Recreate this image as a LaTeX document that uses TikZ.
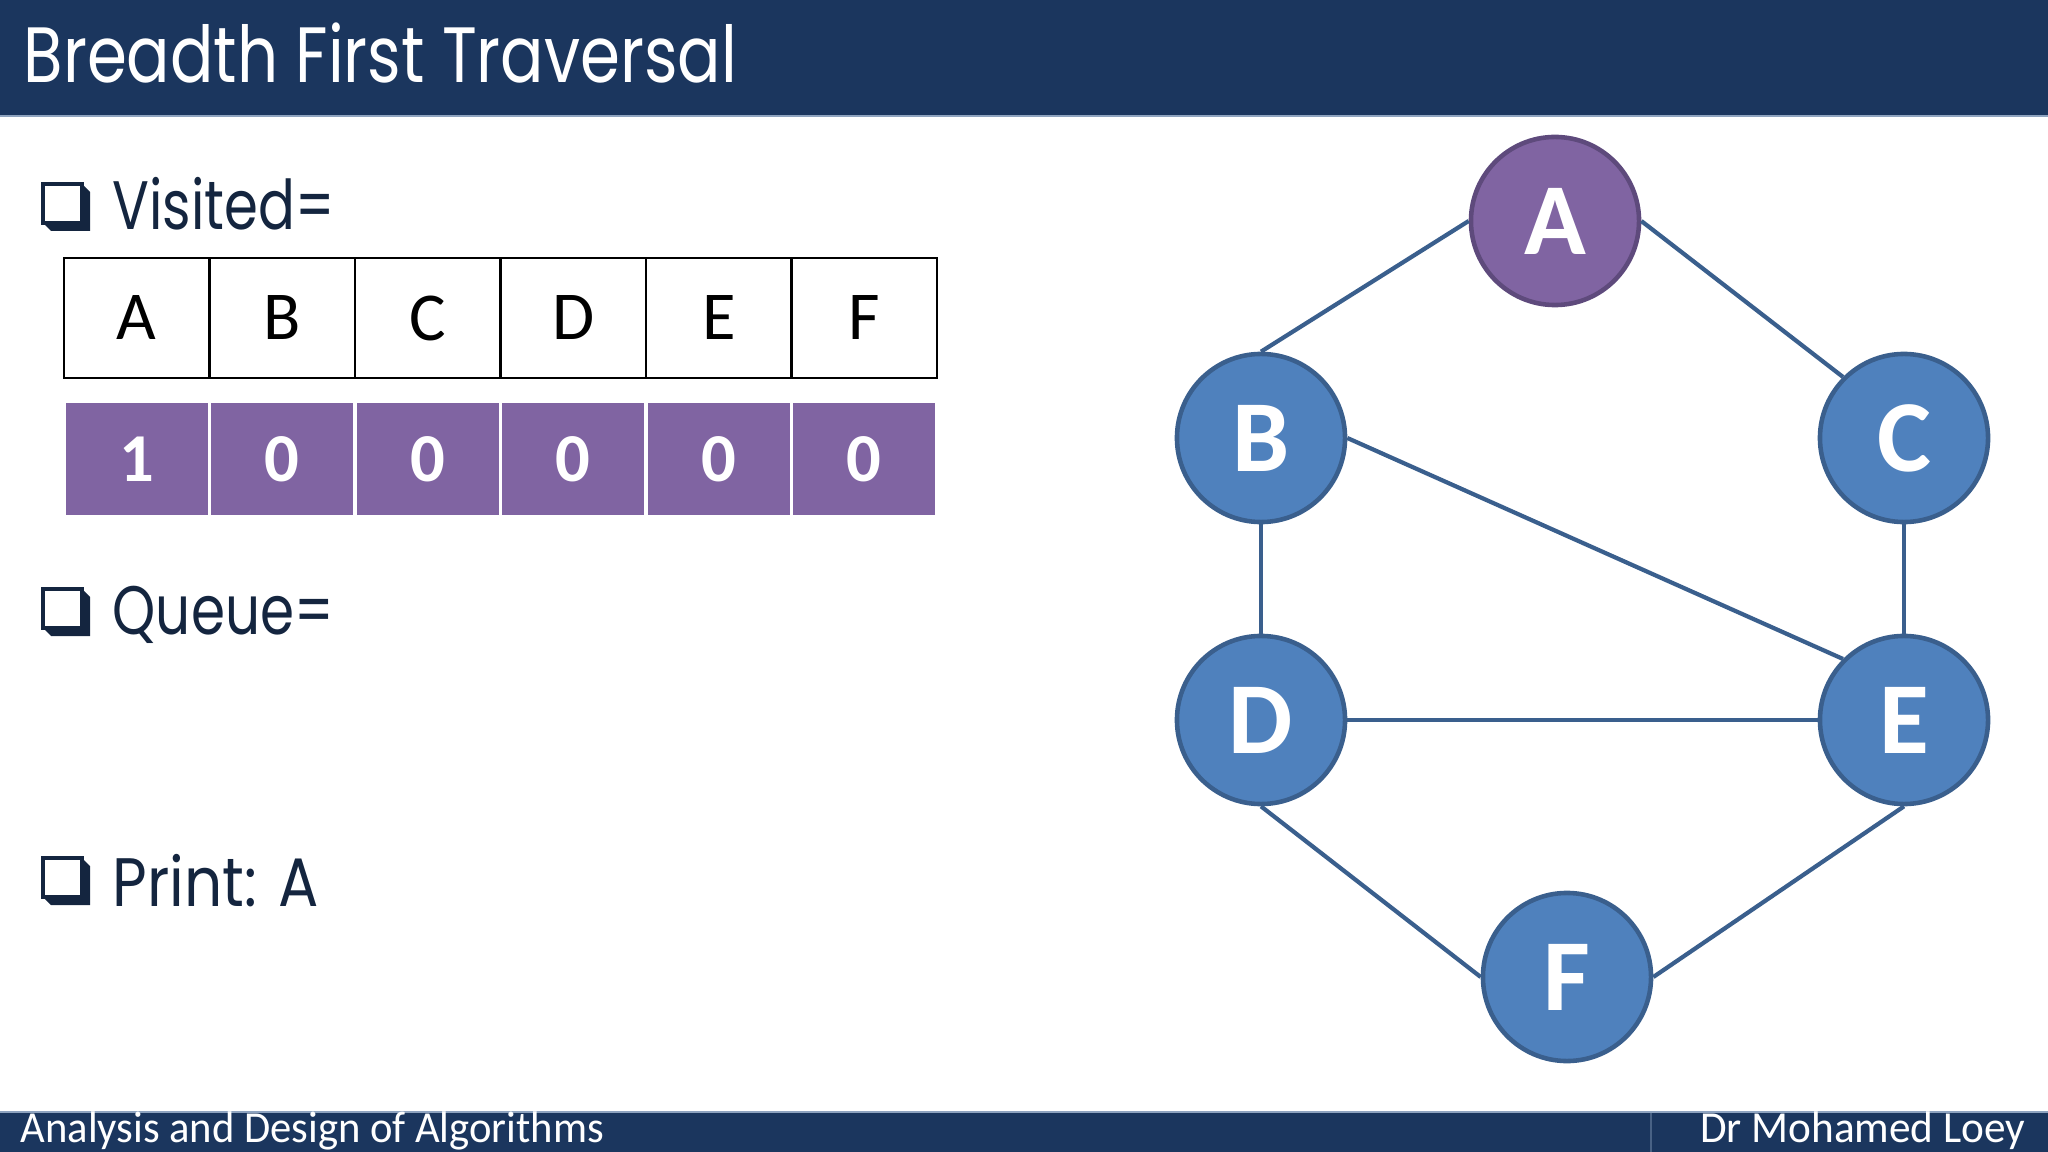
\documentclass[tikz,border=0pt]{standalone}
\usepackage{fontspec}
\usepackage{graphicx}
\usepackage{tikz}
\setmainfont{Carlito}
\newfontfamily\twcen{Poppins}

\definecolor{barblue}{HTML}{1B365E}
\definecolor{barline}{HTML}{8EA3BF}
\definecolor{inkblue}{HTML}{14253F}
\definecolor{nodeblue}{HTML}{4F81BD}
\definecolor{nodeline}{HTML}{3A5F8D}
\definecolor{visitpurple}{HTML}{8064A2}
\definecolor{visitline}{HTML}{5E4A7C}

\newcommand{\fitto}[2]{\resizebox{#1}{\height}{#2}}
\newcommand{\chkbox}[2]{%
	\fill[inkblue] (#1+39,#2) -- (#1+47,#2+8) -- (#1+47,#2+47) -- (#1+8,#2+47) -- (#1,#2+39) -- cycle;
	\draw[inkblue, line width=0.9pt, fill=white] (#1,#2) rectangle (#1+39,#2+39);}

\begin{document}
\begin{tikzpicture}[x=0.01cm, y=-0.01cm,
	vertex/.style={circle, draw=nodeline, fill=nodeblue, line width=1.3pt, minimum size=1.68cm, inner sep=0pt, text=white, font=\fontsize{29}{29}\selectfont\bfseries},
	seen/.style={vertex, draw=visitline, fill=visitpurple},
	edge/.style={draw=nodeline, line width=1.2pt},
	label cell/.style={rectangle, draw=black, line width=0.7pt, minimum width=1.455cm, minimum height=1.2cm, inner sep=0pt, font=\fontsize{19.5}{19.5}\selectfont},
	value cell/.style={rectangle, draw=white, fill=visitpurple, line width=1pt, minimum width=1.455cm, minimum height=1.16cm, inner sep=0pt, text=white, font=\fontsize{19.5}{19.5}\selectfont\bfseries},
	bullet/.style={anchor=base west, inner sep=0pt, text=inkblue, font=\twcen\fontsize{19.5}{19.5}\selectfont},
	bartext/.style={inner sep=0pt, text=white, font=\fontsize{12.6}{12.6}\selectfont}]

	\useasboundingbox (0,0) rectangle (2048,1152);

	% title and footer bars
	\fill[barblue] (0,0) rectangle (2048,116);
	\draw[barline, line width=0.8pt] (0,116) -- (2048,116);
	\node[anchor=base west, inner sep=0pt, text=white, font=\twcen\fontsize{22.3}{22.3}\selectfont] (title) at (23,83) {\fitto{7.13cm}{Breadth First Traversal}};

	\fill[barblue] (0,1112) rectangle (2048,1152);
	\draw[barline, line width=0.8pt] (0,1112) -- (2048,1112);
	\draw[barline!40!barblue, line width=0.8pt] (1651,1113) -- (1651,1152);
	\node[bartext, anchor=base west] (course) at (20,1142) {\fitto{5.83cm}{Analysis and Design of Algorithms}};
	\node[bartext, anchor=base east] (author) at (2026,1142) {\fitto{3.25cm}{Dr Mohamed Loey}};

	% bullets
	\chkbox{43}{184}
	\node[bullet] (visited) at (112,230) {\fitto{2.22cm}{Visited=}};
	\chkbox{43}{589}
	\node[bullet] (queue) at (112,635) {\fitto{2.21cm}{Queue=}};
	\chkbox{43}{858}
	\node[bullet] (print) at (112,906) {\fitto{2.06cm}{Print: A}};

	% visited table
	\node[label cell] (lA) at (136.75,318) {A};
	\node[label cell] (lB) at (282.25,318) {B};
	\node[label cell] (lC) at (427.75,318) {C};
	\node[label cell] (lD) at (573.25,318) {D};
	\node[label cell] (lE) at (718.75,318) {E};
	\node[label cell] (lF) at (864.25,318) {F};

	\node[value cell] (vA) at (136.75,459) {1};
	\node[value cell] (vB) at (282.25,459) {0};
	\node[value cell] (vC) at (427.75,459) {0};
	\node[value cell] (vD) at (573.25,459) {0};
	\node[value cell] (vE) at (718.75,459) {0};
	\node[value cell] (vF) at (864.25,459) {0};

	% graph
	\node[seen] (A) at (1555,221) {A};
	\node[vertex] (B) at (1261,438) {B};
	\node[vertex] (C) at (1904,438) {C};
	\node[vertex] (D) at (1261,720) {D};
	\node[vertex] (E) at (1904,720) {E};
	\node[vertex] (F) at (1567,977) {F};

	\draw[edge] (A.west) -- (B.north);
	\draw[edge] (A.east) -- (C.north west);
	\draw[edge] (B.east) -- (E.north west);
	\draw[edge] (B.south) -- (D.north);
	\draw[edge] (C.south) -- (E.north);
	\draw[edge] (D.east) -- (E.west);
	\draw[edge] (D.south) -- (F.west);
	\draw[edge] (E.south) -- (F.east);

\end{tikzpicture}
\end{document}
